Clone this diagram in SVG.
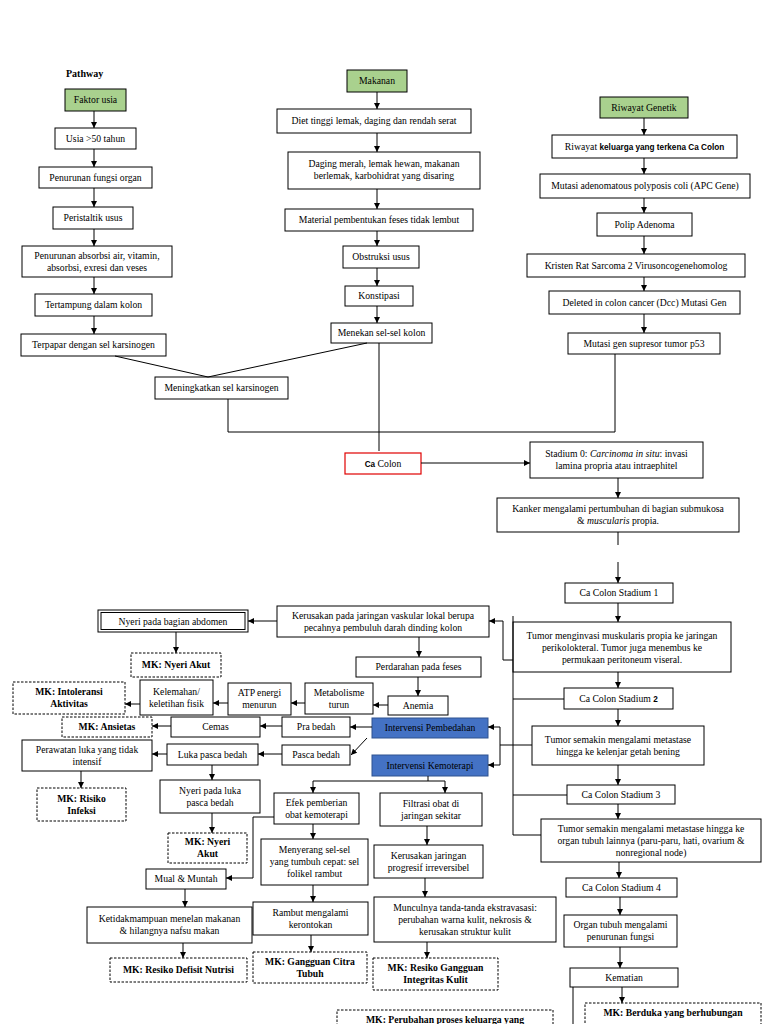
<svg xmlns="http://www.w3.org/2000/svg" width="768" height="1024" viewBox="0 0 768 1024">
<style>
.bx{fill:#fff;stroke:#000;stroke-width:1}
.ds{fill:#fff;stroke:#000;stroke-width:1;stroke-dasharray:2.5 1.5}
.gr{fill:#a9d18e;stroke:#000;stroke-width:1}
.bl{fill:#4472c4;stroke:#2f528f;stroke-width:1}
.cr{fill:#fff;stroke:#e00000;stroke-width:1.2}
text{font-family:"Liberation Serif","Times New Roman",serif;font-size:9.7px;text-anchor:middle;fill:#000}
.mk{font-weight:bold}
.sa{font-family:"Liberation Sans",Arial,sans-serif;font-weight:bold;font-size:8.2px}
#cn line,#cn polyline{stroke:#000;stroke-width:1;fill:none}
.ar{marker-end:url(#ah)}
</style>
<defs>
<marker id="ah" markerUnits="userSpaceOnUse" markerWidth="6" markerHeight="6" refX="6" refY="3" orient="auto"><path d="M0,0 L6,3 L0,6 z" fill="#000"/></marker>
</defs>
<rect width="768" height="1024" fill="#fff"/>
<text x="66" y="77" class="mk" style="text-anchor:start;font-size:10px">Pathway</text>

<g id="n-faktor"><rect class="gr" x="65" y="89" width="61" height="22"/><text x="95.5" y="103.3">Faktor usia</text></g>
<g id="n-usia"><rect class="bx" x="55" y="128" width="81" height="21"/><text x="95.5" y="141.8">Usia &gt;50 tahun</text></g>
<g id="n-fungsi"><rect class="bx" x="39" y="167" width="113" height="21"/><text x="95.5" y="180.8">Penurunan fungsi organ</text></g>
<g id="n-peristaltik"><rect class="bx" x="53" y="207" width="80" height="22"/><text x="93" y="221.3">Peristaltik usus</text></g>
<g id="n-absorbsi"><rect class="bx" x="22" y="246" width="150" height="31"/><text x="97" y="258.5">Penurunan absorbsi air, vitamin,</text><text x="97" y="270.5">absorbsi, exresi dan veses</text></g>
<g id="n-tertampung"><rect class="bx" x="35" y="294" width="117" height="22"/><text x="93.5" y="308.3">Tertampung dalam kolon</text></g>
<g id="n-terpapar"><rect class="bx" x="21" y="334" width="145" height="22"/><text x="93.5" y="348.3">Terpapar dengan sel karsinogen</text></g>

<g id="n-makanan"><rect class="gr" x="347" y="70" width="60" height="22"/><text x="377" y="84.3">Makanan</text></g>
<g id="n-diet"><rect class="bx" x="277" y="109" width="194" height="24"/><text x="374" y="124.3">Diet tinggi lemak, daging dan rendah serat</text></g>
<g id="n-daging"><rect class="bx" x="288" y="152" width="192" height="37"/><text x="384" y="166.5">Daging merah, lemak hewan, makanan</text><text x="384" y="178.5">berlemak, karbohidrat yang disaring</text></g>
<g id="n-material"><rect class="bx" x="285" y="209" width="188" height="22"/><text x="379" y="223.3">Material pembentukan feses tidak lembut</text></g>
<g id="n-obstruksi"><rect class="bx" x="343" y="246" width="76" height="22"/><text x="381" y="260.3">Obstruksi usus</text></g>
<g id="n-konstipasi"><rect class="bx" x="345" y="286" width="68" height="20"/><text x="379" y="299.3">Konstipasi</text></g>
<g id="n-menekan"><rect class="bx" x="331" y="323" width="101" height="20"/><text x="381.5" y="336.3">Menekan sel-sel kolon</text></g>

<g id="n-riwayat-genetik"><rect class="gr" x="600" y="97" width="88" height="21"/><text x="644" y="110.8">Riwayat Genetik</text></g>
<g id="n-riwayat-keluarga"><rect class="bx" x="552" y="135" width="185" height="23"/><text x="644.5" y="149.8">Riwayat <tspan class="sa">keluarga yang terkena Ca Colon</tspan></text></g>
<g id="n-apc"><rect class="bx" x="540" y="174" width="210" height="24"/><text x="645" y="189.3">Mutasi adenomatous polyposis coli (APC Gene)</text></g>
<g id="n-polip"><rect class="bx" x="597" y="213" width="95" height="23"/><text x="644.5" y="227.8">Polip Adenoma</text></g>
<g id="n-kristen"><rect class="bx" x="527" y="254" width="218" height="23"/><text x="636" y="268.8">Kristen Rat Sarcoma 2 Virusoncogenehomolog</text></g>
<g id="n-dcc"><rect class="bx" x="549" y="291" width="191" height="23"/><text x="644.5" y="305.8">Deleted in colon cancer (Dcc) Mutasi Gen</text></g>
<g id="n-p53"><rect class="bx" x="568" y="333" width="152" height="21"/><text x="644" y="346.8">Mutasi gen supresor tumor p53</text></g>

<g id="n-meningkatkan"><rect class="bx" x="155" y="377" width="133" height="22"/><text x="221.5" y="391.3">Meningkatkan sel karsinogen</text></g>
<g id="n-cacolon"><rect class="cr" x="345" y="453" width="76" height="21"/><text x="383" y="467"><tspan class="sa">Ca</tspan> Colon</text></g>
<g id="n-stadium0"><rect class="bx" x="530" y="442" width="173" height="36"/><text x="616.5" y="456.5">Stadium 0: <tspan font-style="italic">Carcinoma in situ</tspan>: invasi</text><text x="616.5" y="469">lamina propria atau intraephitel</text></g>
<g id="n-kanker"><rect class="bx" x="497" y="498" width="242" height="34"/><text x="618" y="511.5">Kanker mengalami pertumbuhan di bagian submukosa</text><text x="618" y="524">&amp; <tspan font-style="italic">muscularis</tspan> propia.</text></g>
<g id="n-stad1"><rect class="bx" x="565" y="583" width="108" height="20"/><text x="619" y="596.3">Ca Colon Stadium 1</text></g>
<g id="n-tumor-invasi"><rect class="bx" x="513" y="622" width="218" height="50"/><text x="622" y="638.5">Tumor menginvasi muskularis propia ke jaringan</text><text x="622" y="650.5">perikolokteral. Tumor juga menembus ke</text><text x="622" y="662.5">permukaan peritoneum viseral.</text></g>
<g id="n-stad2"><rect class="bx" x="564" y="688" width="109" height="21"/><text x="618.5" y="701.8">Ca Colon Stadium <tspan class="sa">2</tspan></text></g>
<g id="n-tumor-kelenjar"><rect class="bx" x="532" y="726" width="172" height="39"/><text x="618" y="742.8">Tumor semakin mengalami metastase</text><text x="618" y="754.8">hingga ke kelenjar getah bening</text></g>
<g id="n-stad3"><rect class="bx" x="567" y="785" width="108" height="19"/><text x="621" y="797.8">Ca Colon Stadium 3</text></g>
<g id="n-tumor-organ"><rect class="bx" x="541" y="819" width="220" height="43"/><text x="651" y="831.8">Tumor semakin mengalami metastase hingga ke</text><text x="651" y="843.8">organ tubuh lainnya (paru-paru, hati, ovarium &amp;</text><text x="651" y="855.8">nonregional node)</text></g>
<g id="n-stad4"><rect class="bx" x="566" y="878" width="111" height="19"/><text x="621.5" y="890.8">Ca Colon Stadium 4</text></g>
<g id="n-organ"><rect class="bx" x="564" y="915" width="113" height="32"/><text x="620.5" y="928.3">Organ tubuh mengalami</text><text x="620.5" y="940.3">penurunan fungsi</text></g>
<g id="n-kematian"><rect class="bx" x="570" y="968" width="108" height="19"/><text x="624" y="980.8">Kematian</text></g>
<g id="n-mk-berduka"><rect class="ds" x="585" y="1003" width="176" height="30"/><text class="mk" x="673" y="1016">MK: Berduka yang berhubungan</text></g>

<g id="n-kerusakan-vaskular"><rect class="bx" x="277" y="606" width="212" height="31"/><text x="383" y="618.8">Kerusakan pada jaringan vaskular lokal berupa</text><text x="383" y="630.8">pecahnya pembuluh darah dinding kolon</text></g>
<g id="n-nyeri-abdomen"><rect class="bx" x="98" y="610" width="150" height="22"/><rect class="bx" x="101" y="612.5" width="144" height="17"/><text x="173" y="624.8">Nyeri pada bagian abdomen</text></g>
<g id="n-mk-nyeri-akut1"><rect class="ds" x="131" y="653" width="90" height="24"/><text class="mk" x="176" y="668.3">MK: Nyeri Akut</text></g>
<g id="n-perdarahan"><rect class="bx" x="356" y="657" width="125" height="20"/><text x="418.5" y="670.3">Perdarahan pada feses</text></g>
<g id="n-anemia"><rect class="bx" x="388" y="696" width="60" height="19"/><text x="418" y="708.8">Anemia</text></g>
<g id="n-metabolisme"><rect class="bx" x="305" y="683" width="68" height="31"/><text x="339" y="695.8">Metabolisme</text><text x="339" y="707.8">turun</text></g>
<g id="n-atp"><rect class="bx" x="228" y="683" width="63" height="32"/><text x="259.5" y="696.3">ATP energi</text><text x="259.5" y="708.3">menurun</text></g>
<g id="n-kelemahan"><rect class="bx" x="140" y="680" width="73" height="35"/><text x="176.5" y="694.8">Kelemahan/</text><text x="176.5" y="706.8">keletihan fisik</text></g>
<g id="n-mk-intoleransi"><rect class="ds" x="13" y="682" width="112" height="32"/><text class="mk" x="69" y="695.3">MK: Intoleransi</text><text class="mk" x="69" y="707.3">Aktivitas</text></g>
<g id="n-interv-bedah"><rect class="bl" x="372" y="718" width="116" height="20"/><text x="430" y="731.3">Intervensi Pembedahan</text></g>
<g id="n-pra-bedah"><rect class="bx" x="282" y="717" width="68" height="20"/><text x="316" y="730.3">Pra bedah</text></g>
<g id="n-cemas"><rect class="bx" x="171" y="717" width="89" height="20"/><text x="215.5" y="730.3">Cemas</text></g>
<g id="n-mk-ansietas"><rect class="ds" x="62" y="717" width="90" height="20"/><text class="mk" x="107" y="730.3">MK: Ansietas</text></g>
<g id="n-pasca-bedah"><rect class="bx" x="282" y="745" width="68" height="20"/><text x="316" y="758.3">Pasca bedah</text></g>
<g id="n-luka"><rect class="bx" x="167" y="744" width="91" height="21"/><text x="212.5" y="757.8">Luka pasca bedah</text></g>
<g id="n-perawatan"><rect class="bx" x="22" y="740" width="130" height="31"/><text x="87" y="752.8">Perawatan luka yang tidak</text><text x="87" y="764.8">intensif</text></g>
<g id="n-mk-risiko-infeksi"><rect class="ds" x="37" y="788" width="89" height="33"/><text class="mk" x="81.5" y="801.8">MK: Risiko</text><text class="mk" x="81.5" y="813.8">Infeksi</text></g>
<g id="n-nyeri-luka"><rect class="bx" x="160" y="780" width="100" height="33"/><text x="210" y="793.8">Nyeri pada luka</text><text x="210" y="805.8">pasca bedah</text></g>
<g id="n-mk-nyeri-akut2"><rect class="ds" x="168" y="833" width="79" height="30"/><text class="mk" x="207.5" y="845.3">MK: Nyeri</text><text class="mk" x="207.5" y="857.3">Akut</text></g>
<g id="n-interv-kemo"><rect class="bl" x="372" y="755" width="116" height="21"/><text x="430" y="768.8">Intervensi Kemoterapi</text></g>
<g id="n-efek"><rect class="bx" x="274" y="793" width="85" height="31"/><text x="316.5" y="805.8">Efek pemberian</text><text x="316.5" y="817.8">obat kemoterapi</text></g>
<g id="n-filtrasi"><rect class="bx" x="380" y="793" width="102" height="33"/><text x="431" y="806.8">Filtrasi obat di</text><text x="431" y="818.8">jaringan sekitar</text></g>
<g id="n-menyerang"><rect class="bx" x="261" y="839" width="107" height="46"/><text x="314.5" y="853.3">Menyerang sel-sel</text><text x="314.5" y="865.3">yang tumbuh cepat: sel</text><text x="314.5" y="877.3">folikel rambut</text></g>
<g id="n-rambut"><rect class="bx" x="253" y="902" width="115" height="33"/><text x="310.5" y="915.8">Rambut mengalami</text><text x="310.5" y="927.8">kerontokan</text></g>
<g id="n-mk-citra"><rect class="ds" x="253" y="952" width="114" height="31"/><text class="mk" x="310" y="964.8">MK: Gangguan Citra</text><text class="mk" x="310" y="976.8">Tubuh</text></g>
<g id="n-kerusakan-jaringan"><rect class="bx" x="374" y="845" width="109" height="33"/><text x="428.5" y="858.8">Kerusakan jaringan</text><text x="428.5" y="870.8">progresif irreversibel</text></g>
<g id="n-munculnya"><rect class="bx" x="374" y="897" width="182" height="45"/><text x="465" y="910.8">Munculnya tanda-tanda ekstravasasi:</text><text x="465" y="922.8">perubahan warna kulit, nekrosis &amp;</text><text x="465" y="934.8">kerusakan struktur kulit</text></g>
<g id="n-mk-integritas"><rect class="ds" x="373" y="958" width="125" height="32"/><text class="mk" x="435.5" y="971.3">MK: Resiko Gangguan</text><text class="mk" x="435.5" y="983.3">Integritas Kulit</text></g>
<g id="n-mual"><rect class="bx" x="146" y="869" width="80" height="20"/><text x="186" y="882.3">Mual &amp; Muntah</text></g>
<g id="n-ketidak"><rect class="bx" x="87" y="907" width="165" height="36"/><text x="169.5" y="922.3">Ketidakmampuan menelan makanan</text><text x="169.5" y="934.3">&amp; hilangnya nafsu makan</text></g>
<g id="n-mk-defisit"><rect class="ds" x="110" y="958" width="137" height="24"/><text class="mk" x="178.5" y="973.3">MK: Resiko Defisit Nutrisi</text></g>
<g id="n-mk-perubahan"><rect class="ds" x="337" y="1010" width="216" height="30"/><text class="mk" x="445" y="1023">MK: Perubahan proses keluarga yang</text></g>

<g id="cn">
<line class="ar" x1="94" y1="111" x2="94" y2="128"/>
<line class="ar" x1="94" y1="149" x2="94" y2="167"/>
<line class="ar" x1="94" y1="188" x2="94" y2="207"/>
<line class="ar" x1="94" y1="229" x2="94" y2="246"/>
<line class="ar" x1="94" y1="277" x2="94" y2="294"/>
<line class="ar" x1="94" y1="316" x2="94" y2="334"/>
<line class="ar" x1="377" y1="92" x2="377" y2="109"/>
<line class="ar" x1="377" y1="133" x2="377" y2="152"/>
<line class="ar" x1="377" y1="189" x2="377" y2="209"/>
<line class="ar" x1="377" y1="231" x2="377" y2="246"/>
<line class="ar" x1="377" y1="268" x2="377" y2="286"/>
<line class="ar" x1="377" y1="306" x2="377" y2="323"/>
<line class="ar" x1="644" y1="118" x2="644" y2="135"/>
<line class="ar" x1="644" y1="158" x2="644" y2="174"/>
<line class="ar" x1="644" y1="198" x2="644" y2="213"/>
<line class="ar" x1="644" y1="236" x2="644" y2="254"/>
<line class="ar" x1="644" y1="277" x2="644" y2="291"/>
<line class="ar" x1="644" y1="314" x2="644" y2="333"/>
<line x1="115" y1="356" x2="208" y2="377"/>
<line x1="367" y1="343" x2="208" y2="377"/>
<line x1="379" y1="343" x2="379" y2="451"/>
<polyline points="228,399 228,432 615,432 615,354"/>
<line class="ar" x1="421" y1="463" x2="530" y2="463"/>
<line class="ar" x1="618" y1="478" x2="618" y2="498"/>
<line x1="618" y1="532" x2="618" y2="545"/>
<line class="ar" x1="618" y1="562" x2="618" y2="583"/>
<line class="ar" x1="618" y1="603" x2="618" y2="622"/>
<line class="ar" x1="618" y1="672" x2="618" y2="688"/>
<line class="ar" x1="618" y1="709" x2="618" y2="726"/>
<line class="ar" x1="618" y1="765" x2="618" y2="785"/>
<line class="ar" x1="618" y1="804" x2="618" y2="819"/>
<line class="ar" x1="619" y1="862" x2="619" y2="878"/>
<line class="ar" x1="620" y1="897" x2="620" y2="915"/>
<line class="ar" x1="620" y1="947" x2="620" y2="968"/>
<line class="ar" x1="622" y1="987" x2="622" y2="1003"/>
<line x1="573" y1="987" x2="573" y2="1024"/>
<polyline points="513,616 513,835 541,835"/>
<line x1="513" y1="699" x2="564" y2="699"/>
<line x1="513" y1="795" x2="567" y2="795"/>
<polyline class="ar" points="513,660 503,660 503,621 489,621"/>
<line x1="532" y1="745" x2="500" y2="745"/>
<line x1="500" y1="727" x2="500" y2="765"/>
<line class="ar" x1="500" y1="727" x2="488" y2="727"/>
<line class="ar" x1="500" y1="765" x2="488" y2="765"/>
<line class="ar" x1="277" y1="621" x2="248" y2="621"/>
<line class="ar" x1="176" y1="632" x2="176" y2="653"/>
<line class="ar" x1="419" y1="637" x2="419" y2="657"/>
<line class="ar" x1="418" y1="677" x2="418" y2="696"/>
<line class="ar" x1="388" y1="705" x2="373" y2="705"/>
<line class="ar" x1="305" y1="703" x2="291" y2="703"/>
<line class="ar" x1="228" y1="703" x2="213" y2="703"/>
<line class="ar" x1="140" y1="704" x2="125" y2="704"/>
<line class="ar" x1="372" y1="727" x2="350" y2="727"/>
<line class="ar" x1="282" y1="726" x2="260" y2="726"/>
<line class="ar" x1="171" y1="726" x2="152" y2="726"/>
<line class="ar" x1="367" y1="738" x2="351" y2="755"/>
<line class="ar" x1="282" y1="754" x2="258" y2="754"/>
<line class="ar" x1="167" y1="754" x2="152" y2="754"/>
<line class="ar" x1="81" y1="771" x2="81" y2="788"/>
<line class="ar" x1="212" y1="765" x2="212" y2="780"/>
<line class="ar" x1="212" y1="813" x2="212" y2="833"/>
<line x1="428" y1="776" x2="428" y2="781"/>
<line x1="313" y1="781" x2="445" y2="781"/>
<line class="ar" x1="313" y1="781" x2="313" y2="793"/>
<line class="ar" x1="445" y1="781" x2="445" y2="793"/>
<polyline class="ar" points="274,817 253,817 253,878 226,878"/>
<line class="ar" x1="313" y1="824" x2="313" y2="839"/>
<line class="ar" x1="313" y1="885" x2="313" y2="902"/>
<line class="ar" x1="311" y1="935" x2="311" y2="952"/>
<line class="ar" x1="427" y1="826" x2="427" y2="845"/>
<line class="ar" x1="425" y1="878" x2="425" y2="897"/>
<line class="ar" x1="427" y1="942" x2="427" y2="958"/>
<line class="ar" x1="185" y1="889" x2="185" y2="907"/>
<line class="ar" x1="183" y1="943" x2="183" y2="958"/>
</g>
</svg>
